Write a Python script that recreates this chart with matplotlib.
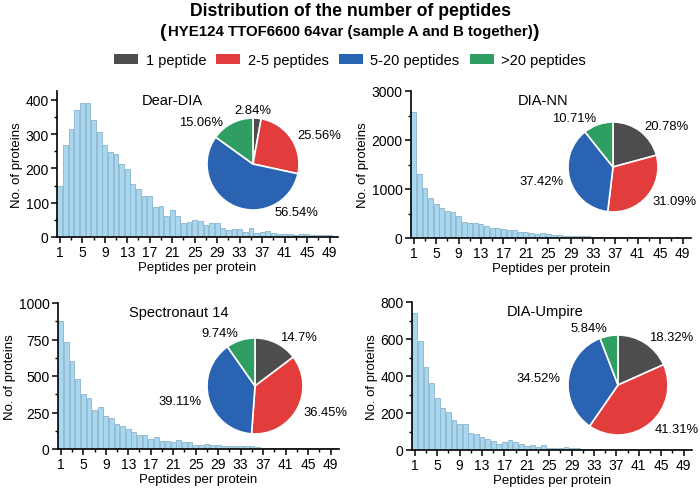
import matplotlib
matplotlib.use("Agg")
import matplotlib.pyplot as plt
from matplotlib.patches import Patch
import numpy as np

plt.rcParams['font.family'] = ['Liberation Sans', 'DejaVu Sans']

peptides = list(range(1, 51))

dear_dia = [148, 269, 316, 371, 390, 390, 341, 307, 268, 249,
            242, 213, 197, 155, 140, 121, 121, 88, 89, 60,
            79, 60, 42, 44, 51, 48, 34, 40, 40, 27,
            19, 22, 24, 16, 26, 12, 14, 18, 13, 9,
            8, 9, 7, 9, 8, 7, 6, 7, 5, 4]
dia_nn = [2570, 1300, 1020, 823, 694, 619, 551, 524, 442, 327,
          313, 300, 279, 245, 204, 197, 177, 156, 156, 129,
          116, 95, 88, 95, 75, 68, 68, 48, 41, 41,
          34, 34, 27, 27, 27, 20, 20, 18, 15, 15,
          12, 12, 10, 10, 10, 10, 8, 20, 8, 6]
spectronaut = [880, 730, 600, 480, 378, 346, 264, 291, 229, 209,
               170, 156, 140, 119, 94, 94, 71, 83, 57, 53,
               50, 60, 46, 46, 25, 28, 32, 30, 25, 23,
               23, 21, 21, 18, 18, 12, 10, 10, 9, 8,
               8, 7, 7, 6, 6, 6, 5, 5, 5, 4]
dia_umpire = [740, 588, 449, 362, 279, 228, 204, 161, 139, 139,
              90, 85, 71, 60, 47, 33, 43, 52, 45, 34,
              20, 25, 18, 25, 13, 12, 12, 14, 10, 9,
              8, 8, 7, 7, 6, 6, 5, 5, 5, 4,
              4, 4, 3, 3, 3, 3, 3, 3, 3, 2]

pie_dear = [2.84, 25.56, 56.54, 15.06]
pie_nn = [20.78, 31.09, 37.42, 10.71]
pie_spec = [14.7, 36.45, 39.11, 9.74]
pie_ump = [18.32, 41.31, 34.52, 5.84]

pie_labels = [["2.84%", "25.56%", "56.54%", "15.06%"],
              ["20.78%", "31.09%", "37.42%", "10.71%"],
              ["14.7%", "36.45%", "39.11%", "9.74%"],
              ["18.32%", "41.31%", "34.52%", "5.84%"]]

categories = ["1 peptide", "2-5 peptides", "5-20 peptides", ">20 peptides"]
titles = ["Dear-DIA", "DIA-NN", "Spectronaut 14", "DIA-Umpire"]
title_x = [0.41, 0.47, 0.43, 0.475]
ymax = [426, 3000, 1000, 800]
yticks = [[0, 100, 200, 300, 400], [0, 1000, 2000, 3000],
          [0, 250, 500, 750, 1000], [0, 200, 400, 600, 800]]
yminor = [50, 500, 125, 100]
xtick_labels = list(range(1, 50, 4))

pie_colors = ['#4d4d4d', '#e23c3c', '#2a63b2', '#2e9e62']
bar_color = '#a8d8f1'
bar_edge = '#8db4c8'

W, H = 700, 489
fig = plt.figure(figsize=(7, 4.89), dpi=100)

# axes rectangles in pixels: left, top, right, bottom
ax_px = [(57, 92, 338, 238), (411, 92, 691, 239),
         (58, 304, 339, 450), (412, 303, 692, 451)]
pie_px = [(253, 165, 46), (613, 168, 45), (255, 387, 48), (618, 386, 50)]

datasets = [dear_dia, dia_nn, spectronaut, dia_umpire]
pies = [pie_dear, pie_nn, pie_spec, pie_ump]

for i in range(4):
    l, t, r, b = ax_px[i]
    ax = fig.add_axes([l / W, 1 - b / H, (r - l) / W, (b - t) / H])
    ax.bar(peptides, datasets[i], width=0.85, color=bar_color,
           edgecolor=bar_edge, linewidth=0.6)
    ax.set_xlim(0.5, 50.5)
    ax.set_ylim(0, ymax[i])
    ax.set_yticks(yticks[i])
    ax.set_yticks(np.arange(0, ymax[i] + 1, yminor[i]), minor=True)
    ax.set_xticks(xtick_labels)
    ax.set_xticks(list(range(3, 51, 4)), minor=True)
    for s in ['top', 'right']:
        ax.spines[s].set_visible(False)
    for s in ['left', 'bottom']:
        ax.spines[s].set_linewidth(1.2)
    ax.tick_params(which='major', length=4, width=1.1, labelsize=10, pad=2)
    ax.tick_params(which='minor', length=2.5, width=1.0)
    ax.set_xlabel("Peptides per protein", fontsize=9.5, labelpad=1)
    ax.set_ylabel("No. of proteins", fontsize=9.5, labelpad=2)
    ax.text(title_x[i], 0.985, titles[i], transform=ax.transAxes, ha='center',
            va='top', fontsize=10.5)

    cx, cy, rr = pie_px[i]
    pax = fig.add_axes([(cx - rr) / W, 1 - (cy + rr) / H, 2 * rr / W, 2 * rr / H])
    wedges, texts = pax.pie(pies[i], colors=pie_colors, startangle=90,
                            counterclock=False, labels=pie_labels[i],
                            labeldistance=1.15,
                            wedgeprops=dict(edgecolor='white', linewidth=1.2),
                            textprops=dict(fontsize=9.4))
    if i == 0:
        # label layout tweaks to follow the reference placement
        x0, y0 = texts[2].get_position()
        texts[2].set_position((-x0, y0))
        texts[2].set_horizontalalignment('left')
        x0, y0 = texts[0].get_position()
        texts[0].set_horizontalalignment('center')
        texts[0].set_position((x0 - 0.1, y0 + 0.02))
        x0, y0 = texts[3].get_position()
        texts[3].set_position((x0 - 0.12, y0 - 0.1))
    pax.set_xlim(-1, 1)
    pax.set_ylim(-1, 1)
    pax.set_aspect('equal')
    pax.axis('off')

fig.text(0.5, 1 - 11 / H, "Distribution of the number of peptides",
         ha='center', va='center', fontsize=12.7, fontweight='bold')
sub = fig.text(0.5, 1 - 32 / H, "HYE124 TTOF6600 64var (sample A and B together)",
               ha='center', va='center', fontsize=10.8, fontweight='bold')

handles = [Patch(facecolor=c, edgecolor='none') for c in pie_colors]
fig.legend(handles, categories, loc='center', bbox_to_anchor=(0.5, 1 - 61 / H),
           ncol=4, frameon=False, fontsize=10.5, handlelength=1.65,
           handleheight=0.7, handletextpad=0.5, columnspacing=0.7)

# larger outer parentheses around the subtitle
fig.canvas.draw()
bb = sub.get_window_extent(renderer=fig.canvas.get_renderer())
fig.text((bb.x0 - 1) / W, 1 - 32.5 / H, "(", ha='right', va='center',
         fontsize=14, fontweight='bold')
fig.text((bb.x1 + 1) / W, 1 - 32.5 / H, ")", ha='left', va='center',
         fontsize=14, fontweight='bold')

fig.savefig("out.png", dpi=100)
